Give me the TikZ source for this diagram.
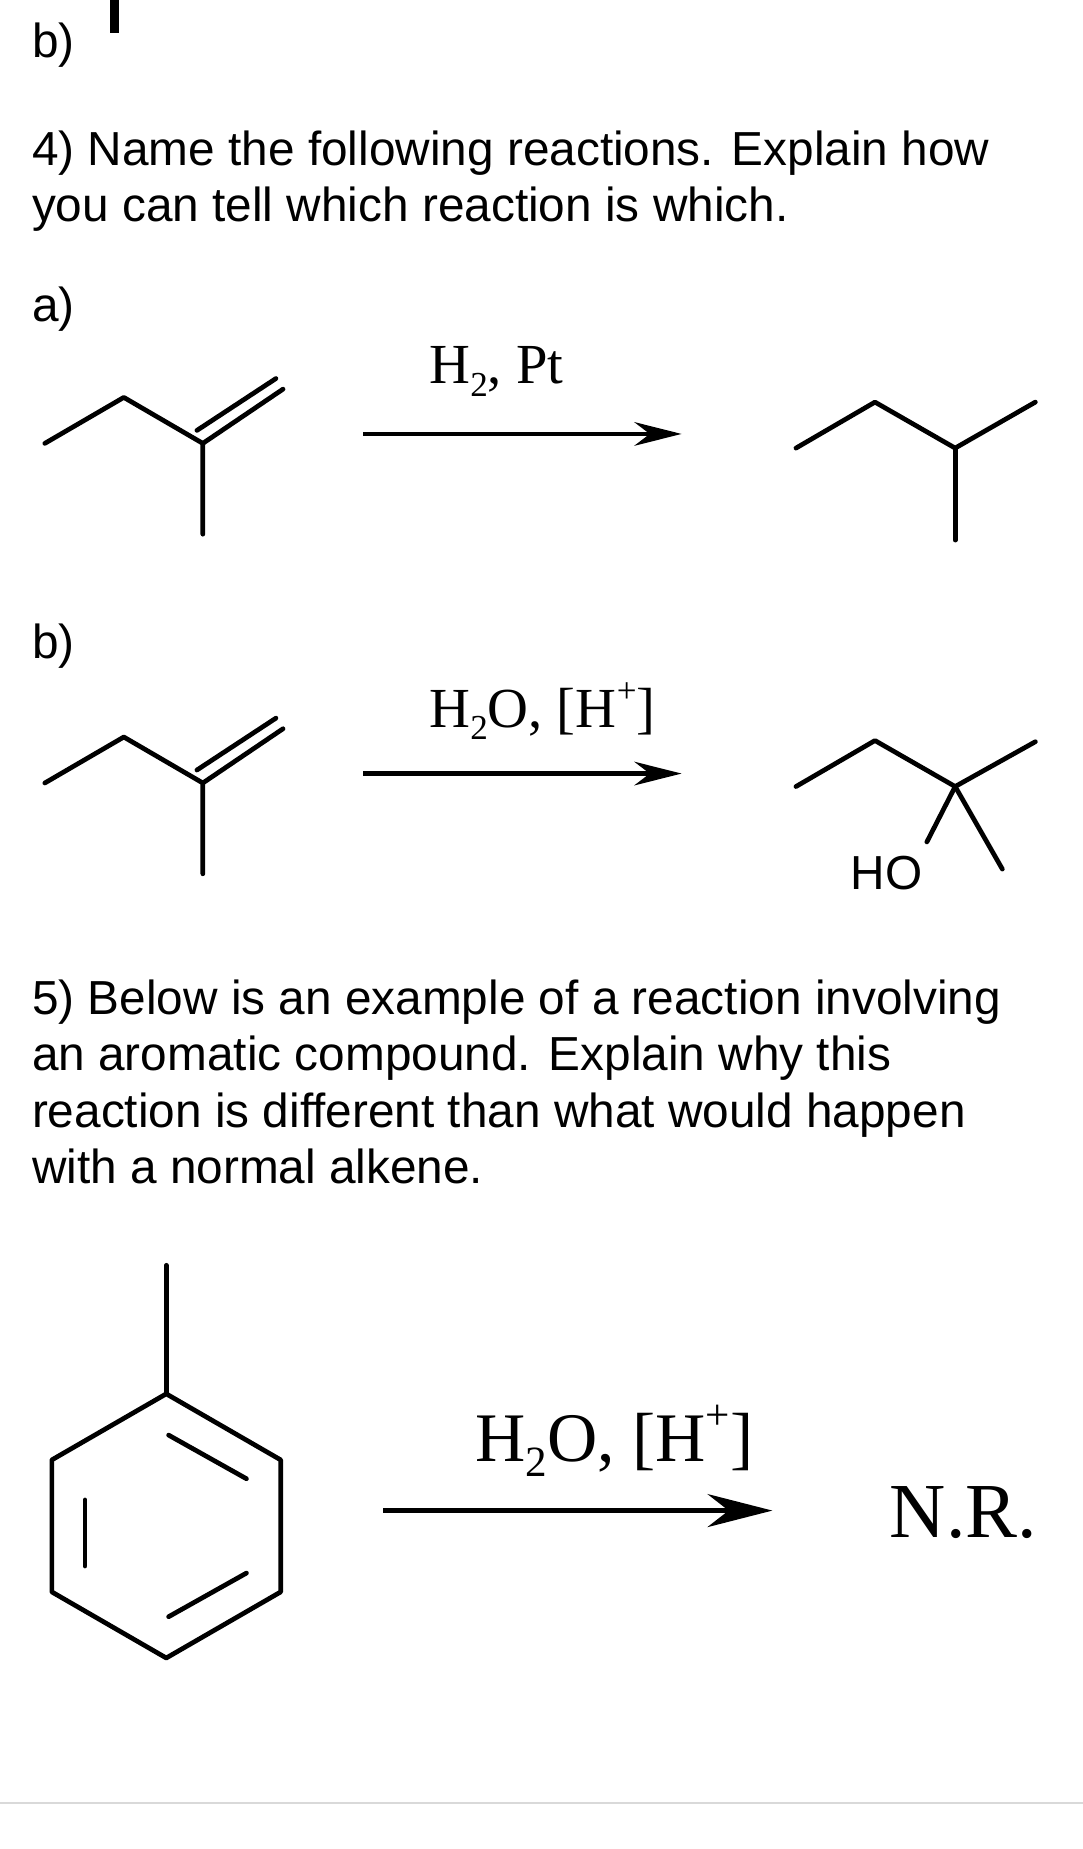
\documentclass[tikz,border=0pt]{standalone}
\usepackage{fontspec}
\setmainfont{Liberation Serif}
\setsansfont{Liberation Sans}
\usetikzlibrary{arrows.meta}
\newcommand{\sbs}[1]{\raisebox{-0.22em}{\fontsize{0.62em}{1em}\selectfont #1}}
\newcommand{\sps}[1]{\raisebox{0.45em}{\fontsize{0.62em}{1em}\selectfont #1}}
\begin{document}
\begin{tikzpicture}[x=1pt,y=-1pt,
  bond/.style={line width=4pt,line cap=round,line join=round},
  rxn/.style={line width=4pt,-{Stealth[length=40pt,width=20pt]}},
  para/.style={anchor=base west,inner sep=0pt,font=\sffamily\fontsize{40.5}{47}\selectfont},
  reag/.style={inner sep=0pt,font=\rmfamily\fontsize{48}{54}\selectfont},
  lbl/.style={inner sep=0pt,font=\sffamily\fontsize{40.5}{47}\selectfont}]
\useasboundingbox (0,0) rectangle (918,1568);
\fill[white] (0,0) rectangle (918,1568);
% top fragment
\node[lbl,anchor=west] (b0) at (27,38) {b)};
\draw[line width=7pt] (97,0) -- (97,28);
\node[para] (q4a) at (27,140) {4) Name the following reactions. Explain how};
\node[para] (q4b) at (27,188) {you can tell which reaction is which.};
\node[lbl,anchor=west] (la) at (27,262) {a)};
% reaction a
\draw[bond] (38,376) -- (105,337) -- (172,376) -- (172,453);
\draw[bond] (172,376) -- (240,330);
\draw[bond] (167,365) -- (234,321);
\node[reag] (ra) at (421,315) {H\sbs{2}, Pt};
\coordinate (a1) at (308,368); \coordinate (a2) at (578,368);
\draw[rxn] (a1) -- (a2);
\draw[bond] (675,380) -- (742,341) -- (810,380) -- (878,341);
\draw[bond] (810,380) -- (810,458);
% reaction b
\node[lbl,anchor=west] (lb) at (27,548) {b)};
\draw[bond] (38,664) -- (105,625) -- (172,664) -- (172,741);
\draw[bond] (172,664) -- (240,618);
\draw[bond] (167,653) -- (234,609);
\node[reag] (rb) at (460,603) {H\sbs{2}O, [H\sps{+}]};
\coordinate (b1) at (308,656); \coordinate (b2) at (578,656);
\draw[rxn] (b1) -- (b2);
\draw[bond] (675,667) -- (742,628) -- (810,667) -- (878,629);
\draw[bond] (810,667) -- (850,737);
\node[lbl] (ho) at (752,740) {HO};
\draw[bond] (810,667) -- (786,714);
% question 5
\node[para] (q5a) at (27,860) {5) Below is an example of a reaction involving};
\node[para] (q5b) at (27,908) {an aromatic compound. Explain why this};
\node[para] (q5c) at (27,956) {reaction is different than what would happen};
\node[para] (q5d) at (27,1004) {with a normal alkene.};
% benzene
\draw[bond] (141,1182) -- (238,1238) -- (238,1350) -- (141,1406) -- (44,1350) -- (44,1238) -- cycle;
\draw[bond] (141,1182) -- (141,1073);
\draw[bond] (143,1217) -- (209,1254);
\draw[bond] (72,1272) -- (72,1328);
\draw[bond] (143,1371) -- (209,1334);
\node[reag,font=\rmfamily\fontsize{59}{66}\selectfont] (rc) at (521,1222) {H\sbs{2}O, [H\sps{+}]};
\coordinate (c1) at (325,1281); \coordinate (c2) at (655,1281);
\draw[rxn,-{Stealth[length=55pt,width=28pt]}] (c1) -- (c2);
\node[reag,font=\rmfamily\fontsize{66}{72}\selectfont] (nr) at (817,1283) {N.R.};
\draw[line width=2pt,black!15] (0,1529) -- (918,1529);
\end{tikzpicture}
\end{document}
